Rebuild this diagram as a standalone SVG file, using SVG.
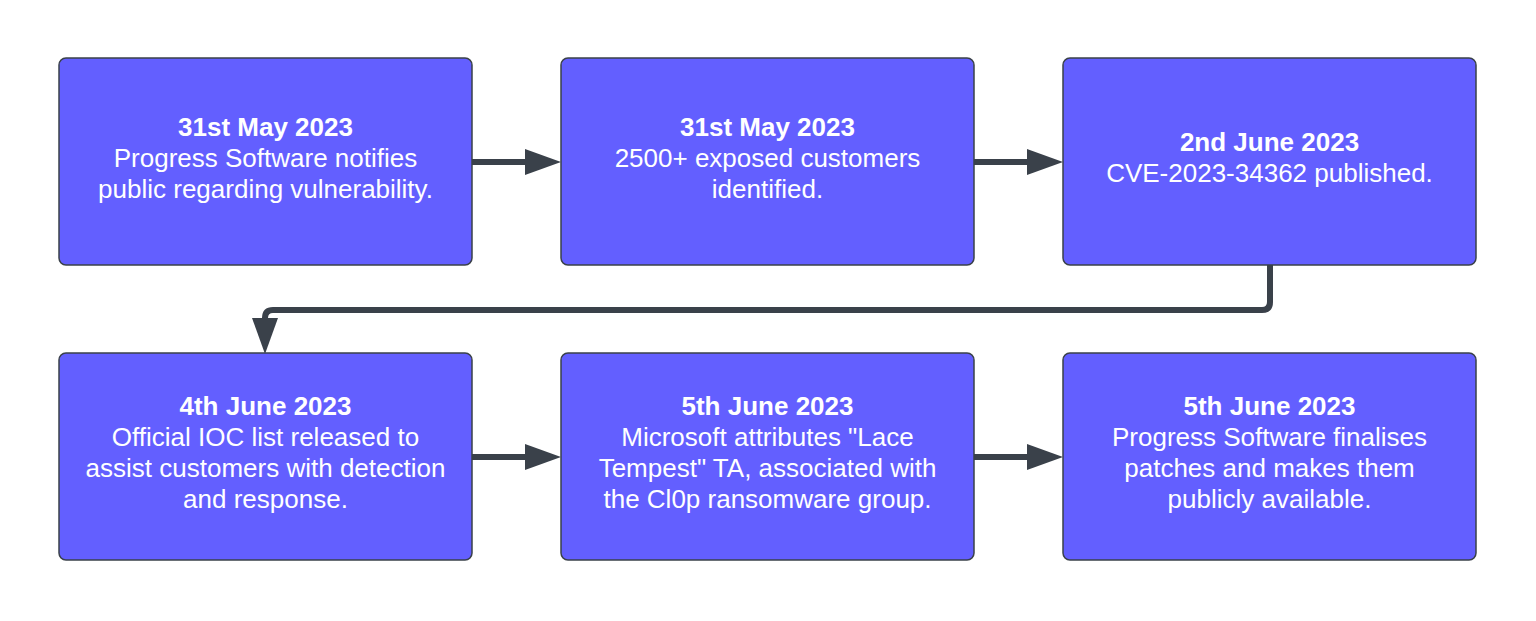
<svg xmlns="http://www.w3.org/2000/svg" width="1536" height="621" viewBox="0 0 1536 621">
<defs>
<style>
.box{fill:#635fff;stroke:#3a414a;stroke-width:1.5}
.t{font-family:"Liberation Sans",Arial,sans-serif;font-size:26px;fill:#ffffff;text-anchor:middle}
.b{font-weight:bold}
.c{fill:none;stroke:#3a414a;stroke-width:6}
</style>
<marker id="ah" markerUnits="userSpaceOnUse" markerWidth="36" markerHeight="26" refX="0" refY="13" orient="auto" overflow="visible">
<path d="M0,0 L36,13 L0,26 Z" fill="#3a414a"/>
</marker>
</defs>
<rect width="1536" height="621" fill="#ffffff"/>
<g id="connectors">
<path class="c" d="M472,162 H525" marker-end="url(#ah)"/>
<path class="c" d="M974,162 H1027" marker-end="url(#ah)"/>
<path class="c" d="M1270,265 V302 Q1270,310 1262,310 H273 Q265,310 265,318" marker-end="url(#ah)"/>
<path class="c" d="M472,457 H525" marker-end="url(#ah)"/>
<path class="c" d="M974,457 H1027" marker-end="url(#ah)"/>
</g>
<g id="n1">
<rect class="box" x="59" y="58" width="413" height="207" rx="7"/>
<text class="t b" x="265.5" y="136">31st May 2023</text>
<text class="t" x="265.5" y="167">Progress Software notifies</text>
<text class="t" x="265.5" y="198">public regarding vulnerability.</text>
</g>
<g id="n2">
<rect class="box" x="561" y="58" width="413" height="207" rx="7"/>
<text class="t b" x="767.5" y="136">31st May 2023</text>
<text class="t" x="767.5" y="167">2500+ exposed customers</text>
<text class="t" x="767.5" y="198">identified.</text>
</g>
<g id="n3">
<rect class="box" x="1063" y="58" width="413" height="207" rx="7"/>
<text class="t b" x="1269.5" y="151">2nd June 2023</text>
<text class="t" x="1269.5" y="182">CVE-2023-34362 published.</text>
</g>
<g id="n4">
<rect class="box" x="59" y="353" width="413" height="207" rx="7"/>
<text class="t b" x="265.5" y="415">4th June 2023</text>
<text class="t" x="265.5" y="446">Official IOC list released to</text>
<text class="t" x="265.5" y="477">assist customers with detection</text>
<text class="t" x="265.5" y="508">and response.</text>
</g>
<g id="n5">
<rect class="box" x="561" y="353" width="413" height="207" rx="7"/>
<text class="t b" x="767.5" y="415">5th June 2023</text>
<text class="t" x="767.5" y="446">Microsoft attributes "Lace</text>
<text class="t" x="767.5" y="477">Tempest" TA, associated with</text>
<text class="t" x="767.5" y="508">the Cl0p ransomware group.</text>
</g>
<g id="n6">
<rect class="box" x="1063" y="353" width="413" height="207" rx="7"/>
<text class="t b" x="1269.5" y="415">5th June 2023</text>
<text class="t" x="1269.5" y="446">Progress Software finalises</text>
<text class="t" x="1269.5" y="477">patches and makes them</text>
<text class="t" x="1269.5" y="508">publicly available.</text>
</g>
</svg>
